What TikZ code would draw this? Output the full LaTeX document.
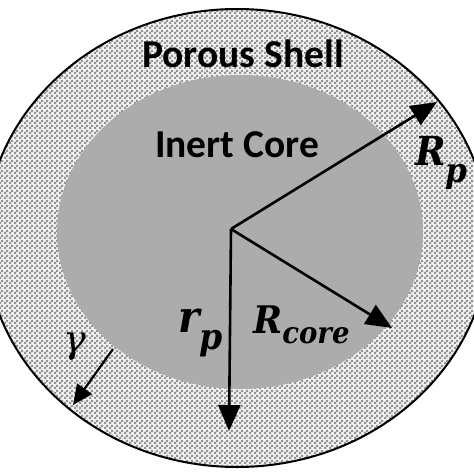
\documentclass[tikz,border=0pt]{standalone}
\usepackage{fontspec}
\usepackage{graphicx}
\setmainfont{DejaVu Serif}
\setsansfont{Carlito}
\usetikzlibrary{patterns,arrows.meta}
\pgfdeclarepatternformonly{shellchecker}{\pgfpointorigin}{\pgfqpoint{5pt}{5pt}}{\pgfqpoint{5pt}{5pt}}{%
  \pgfpathrectangle{\pgfpointorigin}{\pgfqpoint{2.5pt}{2.5pt}}%
  \pgfpathrectangle{\pgfqpoint{2.5pt}{2.5pt}}{\pgfqpoint{2.5pt}{2.5pt}}%
  \pgfusepath{fill}}
\pgfdeclarepatternformonly{shelldots}{\pgfpointorigin}{\pgfqpoint{10pt}{10pt}}{\pgfqpoint{10pt}{10pt}}{%
  \pgfpathcircle{\pgfqpoint{5pt}{5pt}}{1.2pt}%
  \pgfusepath{fill}}
\definecolor{coregray}{RGB}{172,172,172}
\tikzset{
  radius/.style={line width=2.6pt,-{Triangle[length=26pt,width=22pt]}},
  lbl/.style={font=\sffamily\bfseries\fontsize{39.5}{44}\selectfont, anchor=base, inner sep=0pt},
  mlbl/.style={inner sep=0pt, anchor=base west, font=\rmfamily\bfseries\itshape}
}
\begin{document}
\begin{tikzpicture}[x=1pt,y=-1pt]
\useasboundingbox (0,0) rectangle (474,474);
\begin{scope}
\clip (0,0) rectangle (474,474);
\fill[gray!12] (237,238) ellipse [x radius=252, y radius=229];
\fill[pattern=shellchecker, pattern color=gray!85] (237,238) ellipse [x radius=252, y radius=229];
\fill[pattern=shelldots, pattern color=white] (237,238) ellipse [x radius=252, y radius=229];
\draw[line width=2pt] (237,238) ellipse [x radius=252, y radius=229];
\fill[coregray] (240,232) ellipse [x radius=183, y radius=157];
\end{scope}
\coordinate (c) at (231,229);
\coordinate (tp) at (437,102);
\coordinate (tc) at (392,328);
\coordinate (tr) at (229,431);
\coordinate (gs) at (113,349);
\coordinate (gt) at (73,405);
\node[lbl] (shell) at (243,67) {Porous Shell};
\node[lbl] (core) at (237,157) {Inert Core};
\draw[radius] (c) -- (tp);
\draw[radius] (c) -- (tc);
\draw[radius] (c) -- (tr);
\draw[line width=2.2pt,-{Triangle[length=20pt,width=18pt]}] (gs) -- (gt);
\node[mlbl] (Rp) at (415,165) {\scalebox{0.92}[1]{\fontsize{40}{44}\selectfont R\kern0pt\raisebox{-17pt}{\fontsize{34}{38}\selectfont p}}};
\node[mlbl] (rp) at (178,332) {\scalebox{0.92}[1]{\fontsize{44}{48}\selectfont r\raisebox{-17pt}{\fontsize{36}{40}\selectfont p}}};
\node[mlbl] (Rc) at (253,333) {\scalebox{0.92}[1]{\fontsize{38}{42}\selectfont R\raisebox{-10pt}{\fontsize{30}{34}\selectfont core}}};
\node[inner sep=0pt, anchor=base west, font=\rmfamily\itshape\fontsize{38}{42}\selectfont] (g) at (63,352) {γ};
\end{tikzpicture}
\end{document}
